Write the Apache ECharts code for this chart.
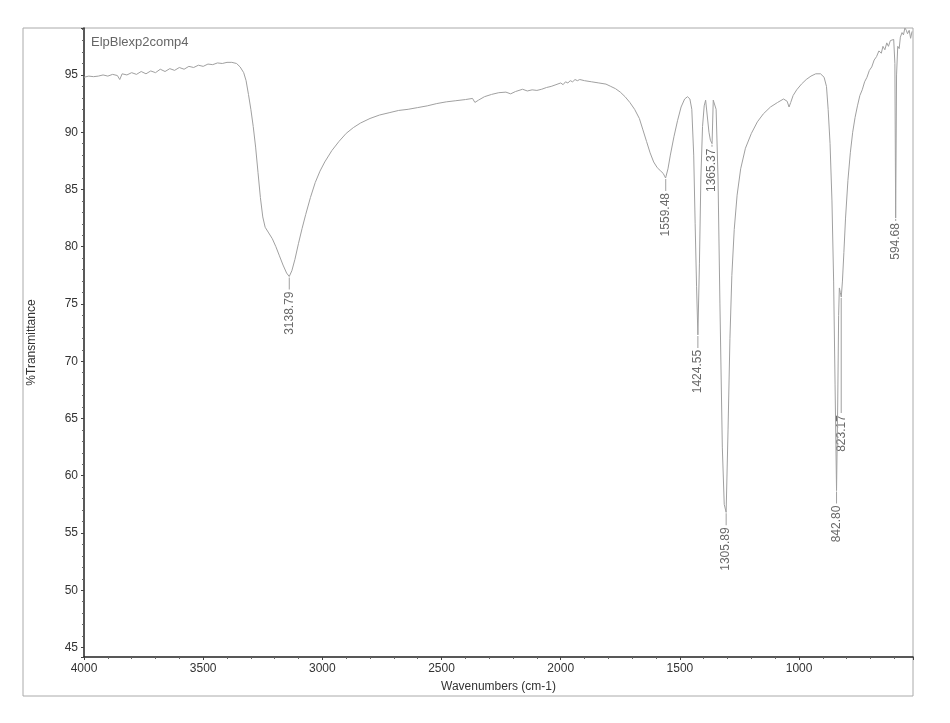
<!DOCTYPE html>
<html>
<head>
<meta charset="utf-8">
<script src="https://cdn.jsdelivr.net/npm/echarts@6/dist/echarts.min.js"></script>
<style>
  html, body { margin: 0; padding: 0; background: #fff; }
  #chart { width: 950px; height: 723px; }
</style>
</head>
<body>
<div id="chart"></div>
<script>
// spectrum: wavenumber (cm-1) and %T
const wavenumbers = [
  4000, 3980, 3960, 3940, 3920, 3900, 3880, 3860, 3850, 3840, 3820, 3800, 3780, 3760, 3740, 3720,
  3700, 3680, 3660, 3640, 3620, 3600, 3580, 3560, 3540, 3520, 3500, 3480, 3460, 3440, 3420, 3400,
  3380, 3360, 3345, 3330, 3320, 3310, 3300, 3290, 3280, 3270, 3260, 3250, 3240, 3225, 3210, 3195,
  3180, 3165, 3150, 3139, 3128, 3115, 3100, 3085, 3070, 3050, 3030, 3010, 2990, 2960, 2930, 2900,
  2870, 2840, 2800, 2760, 2720, 2680, 2640, 2600, 2560, 2520, 2480, 2440, 2400, 2370, 2360, 2345,
  2320, 2290, 2260, 2230, 2210, 2190, 2160, 2140, 2120, 2100, 2080, 2060, 2040, 2020, 2000, 1990,
  1980, 1970, 1960, 1950, 1940, 1930, 1920, 1900, 1870, 1840, 1810, 1790, 1770, 1750, 1730, 1710,
  1690, 1670, 1655, 1640, 1625, 1610, 1595, 1580, 1570, 1560, 1550, 1540, 1525, 1510, 1495, 1480,
  1468, 1458, 1450, 1442, 1436, 1430, 1424.5, 1418, 1412, 1405, 1398, 1392, 1385, 1378, 1372, 1365,
  1360, 1354, 1348, 1340, 1332, 1322, 1314, 1306, 1298, 1290, 1282, 1272, 1260, 1245, 1225, 1200,
  1175, 1150, 1120, 1090, 1065, 1050, 1042, 1035, 1025, 1010, 990, 970, 950, 930, 910, 895,
  885, 878, 870, 862, 855, 849, 842.8, 838, 834, 831, 827, 823, 818, 812, 805, 795,
  785, 775, 765, 755, 745, 735, 725, 715, 705, 695, 685, 675, 665, 655, 648, 640,
  632, 625, 617, 610, 603, 598, 594.7, 591, 586, 580, 575, 568, 562, 556, 550, 545,
  538, 532, 526
];
const transmittance = [
  94.8, 94.9, 94.85, 94.9, 95.0, 94.9, 95.05, 94.95, 94.6, 95.1, 95.0, 95.2, 95.05, 95.3, 95.1, 95.35,
  95.2, 95.5, 95.3, 95.55, 95.4, 95.65, 95.5, 95.75, 95.65, 95.85, 95.75, 95.95, 95.9, 96.05, 96.0, 96.1,
  96.1, 96.0, 95.7, 95.2, 94.5, 93.3, 92.0, 90.5, 88.7, 86.5, 84.3, 82.6, 81.7, 81.2, 80.7, 80.0,
  79.2, 78.4, 77.7, 77.4, 77.9, 78.9, 80.3, 81.6, 82.8, 84.3, 85.6, 86.6, 87.4, 88.4, 89.2, 89.9,
  90.4, 90.8, 91.2, 91.5, 91.7, 91.9, 92.0, 92.15, 92.3, 92.5, 92.65, 92.75, 92.85, 92.95, 92.6, 92.8,
  93.1, 93.3, 93.45, 93.5, 93.35, 93.55, 93.75, 93.6, 93.7, 93.65, 93.75, 93.9, 94.0, 94.15, 94.3, 94.15,
  94.4, 94.3, 94.5, 94.4, 94.6, 94.5, 94.6, 94.5, 94.4, 94.3, 94.2, 94.0, 93.8, 93.5, 93.1, 92.6,
  92.0, 91.2, 90.2, 89.2, 88.2, 87.4, 86.9, 86.6, 86.4, 86.0, 86.8, 88.0, 89.6, 91.0, 92.2, 92.9,
  93.1, 92.9, 92.0, 88.0, 82.0, 76.5, 72.3, 78.5, 86.0, 90.5, 92.3, 92.8, 92.7, 90.0, 89.3, 89.0,
  92.8, 92.9, 92.0, 86.0, 75.0, 62.5, 57.5, 56.8, 64.0, 72.0, 77.5, 81.5, 84.5, 86.8, 88.6, 89.9,
  90.9, 91.6, 92.2, 92.6, 92.9, 92.7, 92.2, 92.6, 93.2, 93.7, 94.2, 94.6, 94.9, 95.1, 95.1, 94.8,
  94.0, 92.0, 89.0, 84.0, 77.0, 68.0, 58.7, 66.0, 74.0, 76.4, 76.0, 75.6, 77.0, 79.5, 82.5, 85.8,
  88.2, 90.0, 91.3, 92.3, 93.2, 93.7, 94.4, 94.8, 95.4, 95.7, 96.3, 96.6, 97.1, 96.9, 97.5, 97.2,
  97.8, 97.5, 98.0, 97.9, 98.1, 96.0, 82.5, 95.0, 97.5, 97.3, 98.3, 98.7, 98.5, 99.1, 98.9, 98.6,
  98.9, 98.2, 98.8
];

// labelled peaks
const peakLabels = ['3138.79', '1559.48', '1424.55', '1365.37', '1305.89', '842.80', '823.17', '594.68'];
const peakWn = [3138.79, 1559.48, 1424.55, 1365.37, 1305.89, 842.80, 823.17, 594.68];
const peakT = [77.4, 86.0, 72.3, 89.0, 56.8, 58.7, 75.6, 82.5];

const xTickStep = 500;
const yTickStep = 5;

const spectrum = wavenumbers.map((w, i) => [w, transmittance[i]]);
const peaks = peakWn.map((w, i) => {
  let lead = 12;
  if (peakLabels[i] === '823.17') lead = 115;
  if (peakLabels[i] === '1365.37') lead = 2;
  if (peakLabels[i] === '594.68') lead = 2;
  return {
    value: [w, peakT[i]],
    name: peakLabels[i],
    symbolSize: [1, lead],
    symbolOffset: [0, lead / 2 + 1]
  };
});

// only label round ticks, not the axis ends
const onStep = step => v => {
  const r = Math.round(v / step) * step;
  return Math.abs(v - r) < 1e-6 ? String(r) : '';
};

const chart = echarts.init(document.getElementById('chart'));
chart.setOption({
  backgroundColor: '#fff',
  animation: false,
  title: {
    text: 'ElpBlexp2comp4',
    left: 86,
    top: 31,
    textStyle: { fontSize: 13, fontWeight: 'normal', color: '#666', fontFamily: 'Liberation Sans' }
  },
  graphic: [{
    type: 'rect',
    shape: { x: 23, y: 28, width: 890, height: 668 },
    style: { fill: 'none', stroke: '#aaa', lineWidth: 1 },
    silent: true
  }],
  grid: { left: 84, right: 37, top: 28, bottom: 66 },
  xAxis: {
    type: 'value',
    inverse: true,
    min: 522,
    max: 4000,
    splitNumber: 7,
    name: 'Wavenumbers (cm-1)',
    nameLocation: 'middle',
    nameGap: 24,
    nameTextStyle: { fontSize: 12, color: '#333', fontFamily: 'Liberation Sans' },
    axisLine: { lineStyle: { color: '#222', width: 1.5 } },
    axisTick: { length: 3, lineStyle: { color: '#444' } },
    minorTick: { show: true, splitNumber: 5, length: 2, lineStyle: { color: '#666' } },
    axisLabel: {
      color: '#333', fontSize: 12, fontFamily: 'Liberation Sans', margin: 6,
      formatter: onStep(xTickStep)
    },
    splitLine: { show: false }
  },
  yAxis: {
    type: 'value',
    min: 44.17,
    max: 99.1,
    splitNumber: 11,
    name: '%Transmittance',
    nameLocation: 'middle',
    nameGap: 46,
    nameTextStyle: { fontSize: 12, color: '#333', fontFamily: 'Liberation Sans' },
    axisLine: { show: true, lineStyle: { color: '#222', width: 1.5 } },
    axisTick: { length: 3, lineStyle: { color: '#444' } },
    minorTick: { show: true, splitNumber: 5, length: 2, lineStyle: { color: '#666' } },
    axisLabel: {
      color: '#333', fontSize: 12, fontFamily: 'Liberation Sans', margin: 6,
      formatter: onStep(yTickStep)
    },
    splitLine: { show: false }
  },
  series: [
    {
      type: 'line',
      data: spectrum,
      showSymbol: false,
      smooth: false,
      lineStyle: { color: '#a0a0a0', width: 1 },
      silent: true
    },
    {
      type: 'scatter',
      data: peaks,
      symbol: 'rect',
      itemStyle: { color: '#888' },
      label: {
        show: true,
        formatter: p => p.name,
        position: 'bottom',
        distance: 2,
        rotate: 90,
        align: 'right',
        verticalAlign: 'middle',
        color: '#444',
        fontSize: 12,
        fontFamily: 'Liberation Sans'
      },
      silent: true
    }
  ]
});
</script>
</body>
</html>
